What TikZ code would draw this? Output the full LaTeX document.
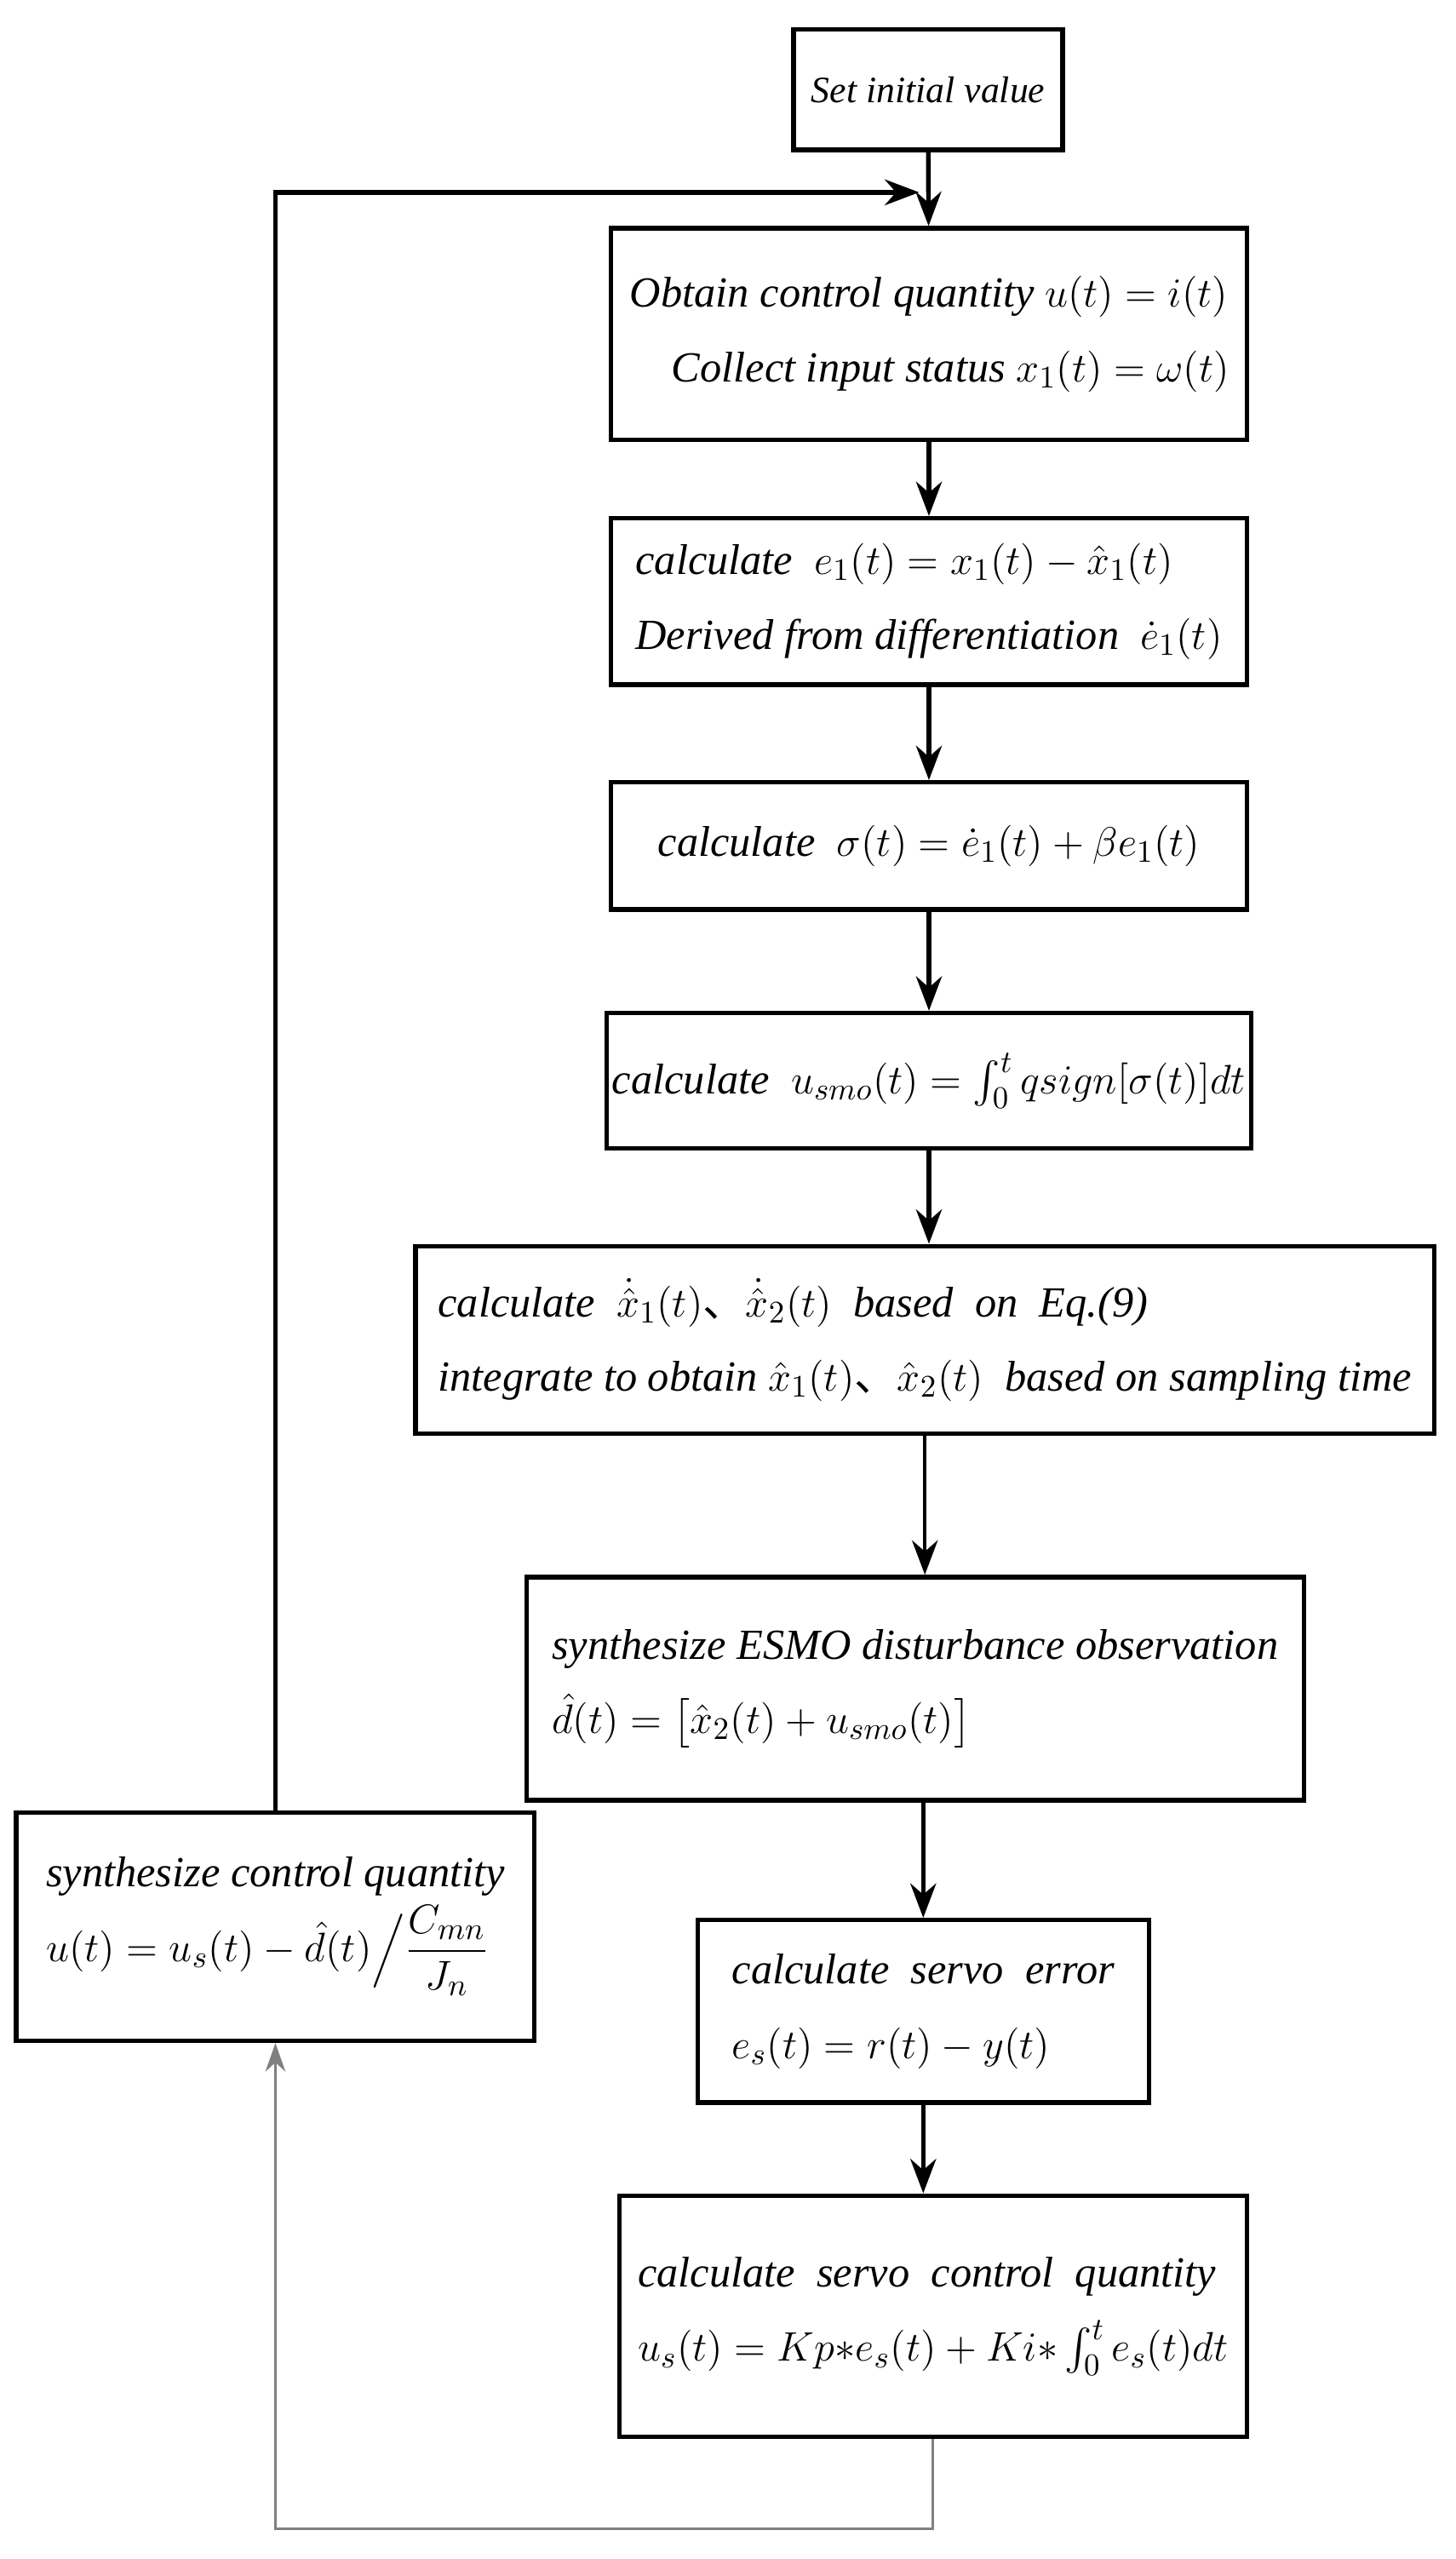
\documentclass[tikz,border=0pt]{standalone}
\usepackage{amsmath}
\usepackage{fontspec}
\setmainfont{Liberation Serif}
\newfontfamily\cjk{Noto Sans CJK SC}
\usetikzlibrary{arrows.meta}
\newcommand{\dun}{\text{\cjk 、}}
\tikzset{
  box/.style={draw, line width=1.6pt, align=center, font=\fontsize{15}{26}\selectfont\itshape, inner sep=2pt},
  flow/.style={line width=1.6pt, -{Stealth[length=12pt,width=9pt]}},
  back/.style={gray, line width=0.8pt, -{Stealth[length=10pt,width=7pt]}}
}
\begin{document}
\begin{tikzpicture}[x=0.02cm,y=-0.02cm]
        \useasboundingbox (0,0) rectangle (893,1570);
        %% boxes of the flow
        \node[box, minimum width=165*0.02cm, minimum height=74*0.02cm, font=\fontsize{13}{20}\selectfont\itshape] (init) at (569.5,55) {Set initial value};
        \node[box, minimum width=390*0.02cm, minimum height=130*0.02cm] (obtain) at (570,205) {Obtain control quantity $u(t)=i(t)$\\ \quad Collect input status $x_1(t)=\omega(t)$};
        \node[box, minimum width=390*0.02cm, minimum height=102*0.02cm, align=left] (err) at (570,369) {calculate\ \ $e_1(t)=x_1(t)-\hat{x}_1(t)$\\ Derived from differentiation\ \ $\dot{e}_1(t)$};
        \node[box, minimum width=390*0.02cm, minimum height=78*0.02cm] (sig) at (570,519) {calculate\ \ $\sigma(t)=\dot{e}_1(t)+\beta e_1(t)$};
        \node[box, minimum width=390*0.02cm, minimum height=83*0.02cm] (smo) at (570,663) {calculate\ \ $u_{smo}(t)=\int_0^t q sign[\sigma(t)]dt$};
        \node[box, minimum width=625*0.02cm, minimum height=115*0.02cm, align=left] (est) at (567.5,822) {calculate\ \ $\dot{\hat{x}}_1(t)$\dun$\dot{\hat{x}}_2(t)$\ \ based\ \ on\ \ Eq.(9)\\ integrate to obtain $\hat{x}_1(t)$\dun$\hat{x}_2(t)$\ \ based on sampling time};
        \node[box, minimum width=477*0.02cm, minimum height=137*0.02cm, align=left] (esmo) at (561.5,1036) {synthesize ESMO disturbance observation\\ $\hat{d}(t)=\big[\hat{x}_2(t)+u_{smo}(t)\big]$};
        \node[box, minimum width=277*0.02cm, minimum height=112*0.02cm, align=left] (serr) at (566.5,1234) {calculate\ \ servo\ \ error\\ $e_s(t)=r(t)-y(t)$};
        \node[box, minimum width=385*0.02cm, minimum height=148*0.02cm, align=left] (sctl) at (572.5,1421) {calculate\ \ servo\ \ control\ \ quantity\\ $u_s(t)=Kp{*}e_s(t)+Ki{*}\int_0^t e_s(t)dt$};
        \node[box, minimum width=318*0.02cm, minimum height=140*0.02cm, align=left] (synth) at (169,1182) {synthesize control quantity\\ $u(t)=u_{s}(t)-\hat{d}(t)\Big/\dfrac{C_{mn}}{J_n}$};
        %% connectors
        \coordinate (join) at (570,118);
        \draw[flow] (init) -- (obtain);
        \draw[flow] (obtain) -- (err);
        \draw[flow] (err) -- (sig);
        \draw[flow] (sig) -- (smo);
        \draw[flow] (smo) -- (smo |- est.north);
        \draw[line width=1.2pt, -{Stealth[length=12pt,width=9pt]}] (est) -- (est |- esmo.north);
        \draw[flow] (serr |- esmo.south) -- (serr);
        \draw[flow] (serr) -- (serr |- sctl.north);
        \draw[flow] (synth.north) |- ([xshift=-6*0.02cm]join);
        \draw[back] (sctl.south) -- ++(0,55) -| (synth.south);
\end{tikzpicture}
\end{document}
